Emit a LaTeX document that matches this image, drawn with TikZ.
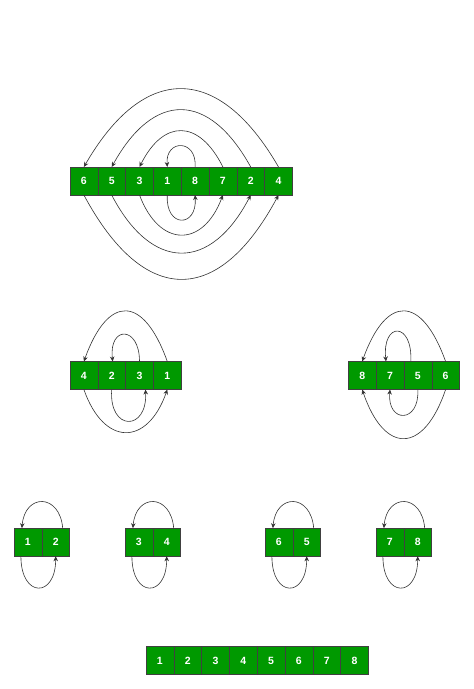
\documentclass[tikz,border=0pt]{standalone}
\usepackage{fontspec}
\setmainfont{Liberation Sans}
\usetikzlibrary{arrows.meta}
\definecolor{cellgreen}{HTML}{009900}
\tikzset{
  cell/.style={draw=black!75, fill=cellgreen, text=white, minimum width=27.8pt,
    minimum height=27.7pt, inner sep=0pt, font=\fontsize{10.5}{12}\selectfont\bfseries},
  hop/.style={draw=black!80, line width=0.6pt, -{Stealth[length=5pt,width=4.5pt]}}
}
\begin{document}
\begin{tikzpicture}[x=1pt,y=1pt]
    \useasboundingbox (0,0) rectangle (474,689);
    \def \w {27.8}
    % rows of cells
    \foreach \v [count=\i] in {6,5,3,1,8,7,2,4}
      \node[cell] (t\i) at ({70+\w*(\i-0.5)},508) {\v};
    \foreach \v [count=\i] in {4,2,3,1}
      \node[cell] (m\i) at ({70+\w*(\i-0.5)},313.5) {\v};
    \foreach \v [count=\i] in {8,7,5,6}
      \node[cell] (r\i) at ({348.3+\w*(\i-0.5)},313.5) {\v};
    \foreach \a/\b/\x in {1/2/14, 3/4/125, 6/5/265, 7/8/376}
    {
      \node[cell] (q\a) at ({\x+\w*0.5},146.8) {\a};
      \node[cell] (q\b) at ({\x+\w*1.5},146.8) {\b};
    }
    \foreach \v in {1,...,8}
      \node[cell] (b\v) at ({146+\w*(\v-0.5)},28.5) {\v};
    % top row, over
    \draw[hop] (t8.north) .. controls +(-60,104) and +(60,104) .. (t1.north);
    \draw[hop] (t7.north) .. controls +(-42,76) and +(42,76) .. (t2.north);
    \draw[hop] (t6.north) .. controls +(-24,48) and +(24,48) .. (t3.north);
    \draw[hop] (t5.north) .. controls +(2,28) and +(-2,28) .. (t4.north);
    % top row, under
    \draw[hop] (t4.south) .. controls +(-2,-33) and +(2,-33) .. (t5.south);
    \draw[hop] (t3.south) .. controls +(20,-53) and +(-20,-53) .. (t6.south);
    \draw[hop] (t2.south) .. controls +(40,-77) and +(-40,-77) .. (t7.south);
    \draw[hop] (t1.south) .. controls +(60,-112) and +(-60,-112) .. (t8.south);
    % left group
    \draw[hop] (m4.north) .. controls +(-24,67) and +(24,67) .. (m1.north);
    \draw[hop] (m3.north) .. controls +(0,36) and +(-4,36) .. ([xshift=1pt]m2.north);
    \draw[hop] (m1.south) .. controls +(20,-57) and +(-20,-57) .. (m4.south);
    \draw[hop] (m2.south) .. controls +(-3,-42) and +(2,-42) .. ([xshift=6pt]m3.south);
    % right group
    \draw[hop] (r4.north) .. controls +(-24,67) and +(24,67) .. (r1.north);
    \draw[hop] ([xshift=-7pt]r3.north) .. controls +(2,40) and +(-4,40) .. ([xshift=-4pt]r2.north);
    \draw[hop] (r4.south) .. controls +(-22,-65) and +(22,-65) .. (r1.south);
    \draw[hop] (r3.south) .. controls +(2,-34) and +(-3,-34) .. (r2.south);
    % pairs
    \foreach \a/\b in {2/1, 4/3, 5/6, 8/7}
    {
      \draw[hop] ([xshift=7pt]q\a.north) .. controls +(-3,35) and +(3,35) .. ([xshift=-6pt]q\b.north);
      \draw[hop] ([xshift=-7pt]q\b.south) .. controls +(0,-42) and +(0,-42) .. (q\a.south);
    }
\end{tikzpicture}
\end{document}
